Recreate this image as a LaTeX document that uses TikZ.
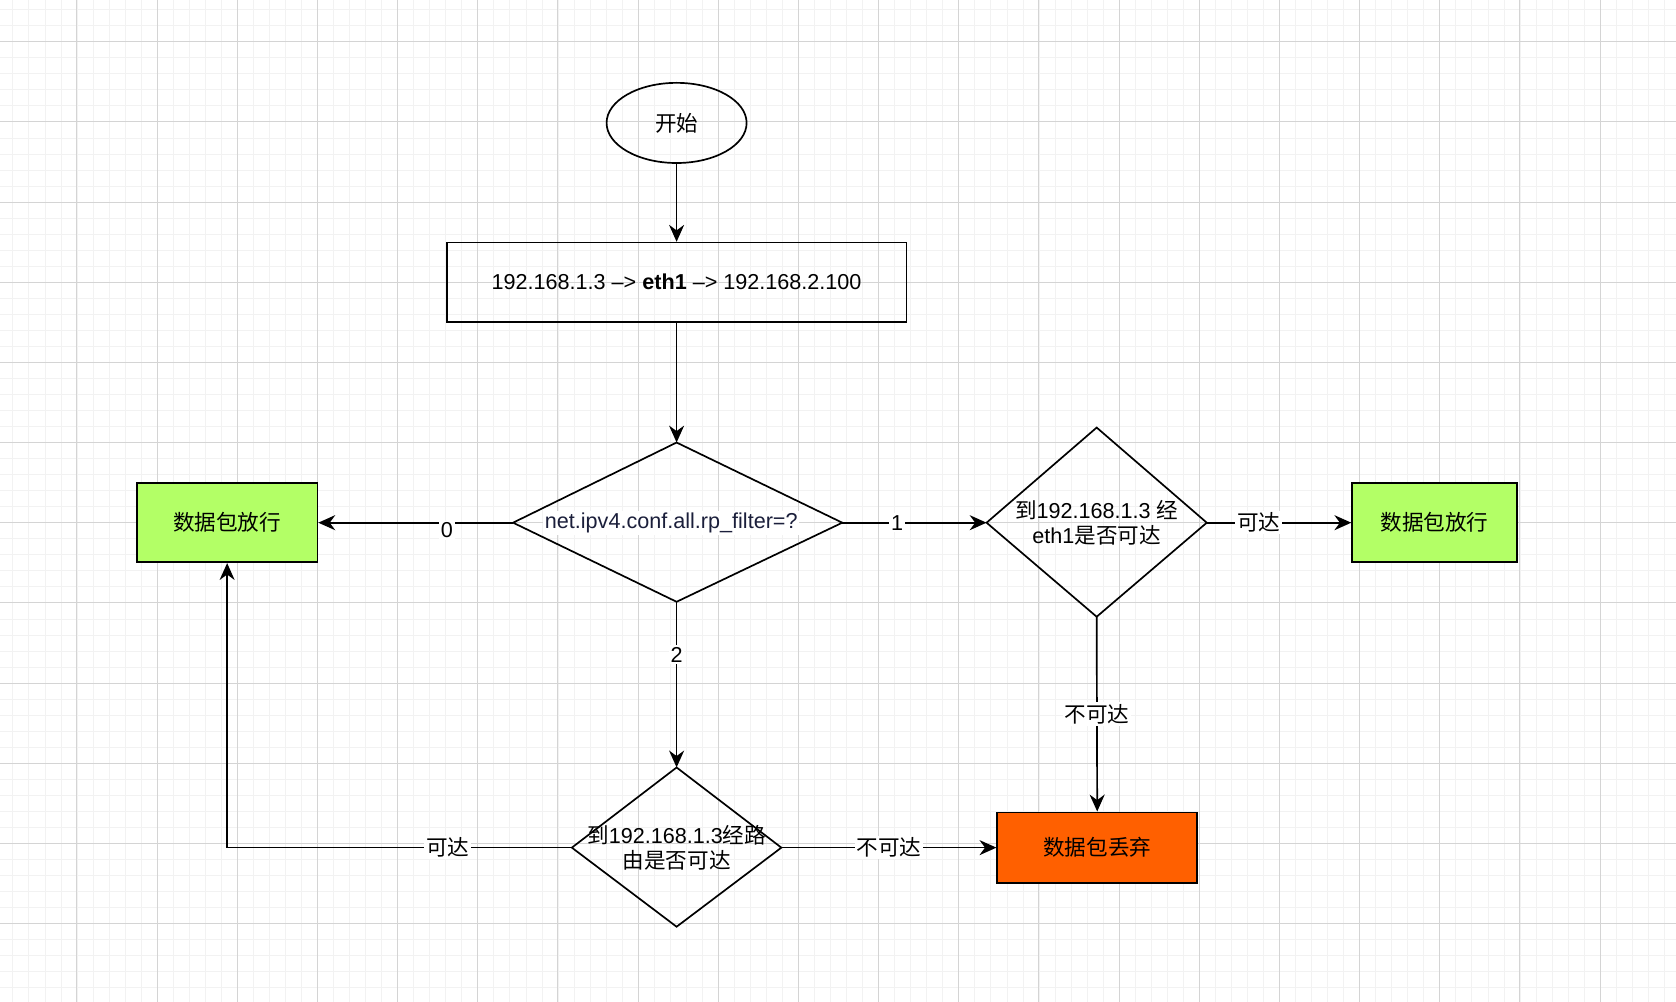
\documentclass[tikz,border=0pt]{standalone}
\usepackage{fontspec}
\setmainfont{Liberation Sans}
\newfontfamily\cjk{Noto Sans CJK SC}
\usetikzlibrary{arrows.meta,shapes.geometric}
\definecolor{okgreen}{HTML}{B3FF66}
\definecolor{dropor}{HTML}{FF6000}
\definecolor{navy}{HTML}{1B1F3B}
\tikzset{
  box/.style={draw,line width=0.9pt,inner sep=0pt,font=\fsz},
  conn/.style={line width=0.9pt,-{Stealth[length=9pt,width=8pt]}},
  lab/.style={fill=white,inner sep=1pt,font=\fsz},
  dtext/.style={align=center,font=\fsz,inner sep=0pt}
}
\newcommand\fsz{\fontsize{11.5}{13.5}\selectfont}
\begin{document}
\begin{tikzpicture}[x=0.02cm,y=-0.02cm]
\useasboundingbox (0,0) rectangle (1568,937);
\fill[white] (0,0) rectangle (1568,937);
\foreach \x in {0,15,...,1568} \draw[black!5,line width=0.4pt] (\x+12,0) -- (\x+12,937);
\foreach \y in {0,15,...,937} \draw[black!5,line width=0.4pt] (0,\y+9) -- (1568,\y+9);
\foreach \x in {-3,72,...,1568} \draw[black!17,line width=0.5pt] (\x,0) -- (\x,937);
\foreach \y in {39,114,...,937} \draw[black!17,line width=0.5pt] (0,\y) -- (1568,\y);

% nodes
\node[box,ellipse,minimum width=131*0.02cm,minimum height=75*0.02cm] (start) at (633,115) {\cjk 开始};
\node[box,rectangle,minimum width=430*0.02cm,minimum height=74*0.02cm] (rect) at (633,264)
  {192.168.1.3 --> \textbf{eth1} --> 192.168.2.100};
\node[box,fill=okgreen,minimum width=169*0.02cm,minimum height=74*0.02cm] (passL) at (212.5,489) {\cjk 数据包放行};
\node[box,fill=okgreen,minimum width=154*0.02cm,minimum height=74*0.02cm] (passR) at (1342,489) {\cjk 数据包放行};
\node[box,fill=dropor,minimum width=187*0.02cm,minimum height=66*0.02cm] (drop) at (1026.5,793) {\cjk 数据包丢弃};

% diamond 1
\coordinate (d1t) at (633,414); \coordinate (d1b) at (633,563);
\coordinate (d1l) at (480,489); \coordinate (d1r) at (788,489);
\draw[line width=0.9pt] (d1t) -- (d1r) -- (d1b) -- (d1l) -- cycle;
\node[dtext,fill=white,text=navy,inner sep=1pt] (d1) at (628,489) {net.ipv4.conf.all.rp\_filter=?};
% diamond 2
\coordinate (d2t) at (1026,400); \coordinate (d2b) at (1026,577);
\coordinate (d2l) at (923,489); \coordinate (d2r) at (1129,489);
\draw[line width=0.9pt] (d2t) -- (d2r) -- (d2b) -- (d2l) -- cycle;
\node[dtext] (d2) at (1026,489) {{\cjk 到}192.168.1.3 {\cjk 经}\\eth1{\cjk 是否可达}};
% diamond 3
\coordinate (d3t) at (633,718); \coordinate (d3b) at (633,867);
\coordinate (d3l) at (535,793); \coordinate (d3r) at (731,793);
\draw[line width=0.9pt] (d3t) -- (d3r) -- (d3b) -- (d3l) -- cycle;
\node[dtext] (d3) at (633,793) {{\cjk 到}192.168.1.3{\cjk 经路}\\{\cjk 由是否可达}};

% connectors
\draw[conn] (start) -- (rect);
\draw[conn] (rect) -- (d1t);
\draw[conn] (d1l) -- node[lab,pos=0.34,yshift=-4pt] {0} (passL.east);
\draw[conn] (d1r) -- node[lab,pos=0.38] {1} (d2l);
\draw[conn] (d2r) -- node[lab,pos=0.36] {\cjk 可达} (passR.west);
\draw[conn] (d2b) -- node[lab,pos=0.5] {\cjk 不可达} (drop.north);
\draw[conn] (d1b) -- node[lab,pos=0.32] {2} (d3t);
\draw[conn] (d3l) -- node[lab,pos=0.36] {\cjk 可达} (passL.south |- d3l) -- (passL.south);
\draw[conn] (d3r) -- node[lab,pos=0.5] {\cjk 不可达} (drop.west);
\end{tikzpicture}
\end{document}
